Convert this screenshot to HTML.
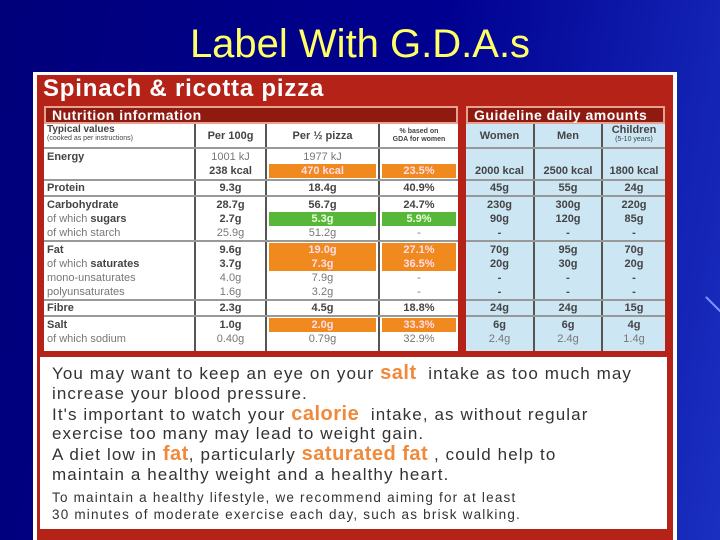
<!DOCTYPE html>
<html><head><meta charset="utf-8"><style>
*{margin:0;padding:0;box-sizing:border-box}
body{width:720px;height:540px;overflow:hidden;background:linear-gradient(100deg,#00007a 0%,#000090 55%,#1a2fc0 100%);font-family:"Liberation Sans",sans-serif;position:relative}
#title{position:absolute;left:0;width:720px;top:20px;text-align:center;color:#ffff66;font-size:40px;line-height:48px}
#img{position:absolute;left:33px;top:72px;width:644px;height:468px;background:#fff}
#red{position:absolute;left:37px;top:75px;width:636px;height:465px;background:#b52318}
#pt{position:absolute;left:43px;top:75px;color:#fff;font-weight:bold;font-size:24px;letter-spacing:0.8px}
.hd{position:absolute;top:106px;height:18px;background:#8e1a10;border:2px solid #e8a090;color:#fff;font-weight:bold;font-size:14px;line-height:14px;padding-left:6px;letter-spacing:0.5px}
.tbl{position:absolute;top:124px;display:flex;flex-direction:column;font-size:11px;font-weight:bold;color:#444}
.row{display:flex;border-bottom:2px solid #999}
.c{border-right:2px solid #555;display:flex;flex-direction:column;justify-content:flex-start;padding:1px 3px}
.c div{height:14px;line-height:14px;white-space:nowrap}
.n{text-align:center}
.l div{text-align:left}
.lt{font-weight:normal;color:#777}
.o{background:#f0891e;color:#fde;margin:0 -1px}
.g{background:#58b738;color:#e8ffe0;margin:0 -1px}
#left{left:44px;width:414px;background:#fff}
#right{left:466px;width:199px;background:#cce6f4}
#text{position:absolute;left:40px;top:357px;width:627px;height:172px;background:#fff;padding:7px 12px;color:#333;font-size:17px;line-height:19.5px;letter-spacing:1.1px;white-space:nowrap;overflow:hidden}
#text p{margin-bottom:1.5px}
.hl{color:#f0893a;font-weight:bold;font-size:20px;letter-spacing:0.5px}
.sm{font-size:13.5px;line-height:17px;margin-top:5px;letter-spacing:1.2px}
#deco{position:absolute;left:700px;top:310px;width:40px;height:2px;background:#8090ff;transform:rotate(45deg)}
</style></head><body>
<div id="title">Label With G.D.A.s</div>
<div id="deco"></div>
<div id="img"></div>
<div id="red"></div>
<div id="pt">Spinach &amp; ricotta pizza</div>
<div class="hd" style="left:44px;width:414px">Nutrition information</div>
<div class="hd" style="left:466px;width:199px">Guideline daily amounts</div>

<div class="tbl" id="left">
 <div class="row" style="height:25px">
  <div class="c l" style="width:152px;font-size:10px;line-height:9px"><span>Typical values</span><span style="font-size:7px;font-weight:normal">(cooked as per instructions)</span></div>
  <div class="c n" style="width:71px;justify-content:center"><div>Per 100g</div></div>
  <div class="c n" style="width:113px;justify-content:center"><div>Per ½ pizza</div></div>
  <div class="c n" style="width:78px;border-right:0;font-size:7px;line-height:8px;justify-content:center"><span>% based on</span><span>GDA for women</span></div>
 </div>
 <div class="row" style="height:32px">
  <div class="c l" style="width:152px"><div>Energy</div></div>
  <div class="c n" style="width:71px"><div class="lt">1001 kJ</div><div>238 kcal</div></div>
  <div class="c n" style="width:113px"><div class="lt">1977 kJ</div><div class="o">470 kcal</div></div>
  <div class="c n" style="width:78px;border-right:0"><div></div><div class="o">23.5%</div></div>
 </div>
 <div class="row" style="height:16px">
  <div class="c l" style="width:152px;padding-top:0"><div>Protein</div></div>
  <div class="c n" style="width:71px;padding-top:0"><div>9.3g</div></div>
  <div class="c n" style="width:113px;padding-top:0"><div>18.4g</div></div>
  <div class="c n" style="width:78px;border-right:0;padding-top:0"><div>40.9%</div></div>
 </div>
 <div class="row" style="height:45px">
  <div class="c l" style="width:152px"><div>Carbohydrate</div><div class="lt">of which <b style="color:#444">sugars</b></div><div class="lt">of which starch</div></div>
  <div class="c n" style="width:71px"><div>28.7g</div><div>2.7g</div><div class="lt">25.9g</div></div>
  <div class="c n" style="width:113px"><div>56.7g</div><div class="g">5.3g</div><div class="lt">51.2g</div></div>
  <div class="c n" style="width:78px;border-right:0"><div>24.7%</div><div class="g">5.9%</div><div class="lt">-</div></div>
 </div>
 <div class="row" style="height:59px">
  <div class="c l" style="width:152px"><div>Fat</div><div class="lt">of which <b style="color:#444">saturates</b></div><div class="lt">mono-unsaturates</div><div class="lt">polyunsaturates</div></div>
  <div class="c n" style="width:71px"><div>9.6g</div><div>3.7g</div><div class="lt">4.0g</div><div class="lt">1.6g</div></div>
  <div class="c n" style="width:113px"><div class="o">19.0g</div><div class="o">7.3g</div><div class="lt">7.9g</div><div class="lt">3.2g</div></div>
  <div class="c n" style="width:78px;border-right:0"><div class="o">27.1%</div><div class="o">36.5%</div><div class="lt">-</div><div class="lt">-</div></div>
 </div>
 <div class="row" style="height:16px">
  <div class="c l" style="width:152px;padding-top:0"><div>Fibre</div></div>
  <div class="c n" style="width:71px;padding-top:0"><div>2.3g</div></div>
  <div class="c n" style="width:113px;padding-top:0"><div>4.5g</div></div>
  <div class="c n" style="width:78px;border-right:0;padding-top:0"><div>18.8%</div></div>
 </div>
 <div class="row" style="height:34px;border-bottom:0">
  <div class="c l" style="width:152px"><div>Salt</div><div class="lt">of which sodium</div></div>
  <div class="c n" style="width:71px"><div>1.0g</div><div class="lt">0.40g</div></div>
  <div class="c n" style="width:113px"><div class="o">2.0g</div><div class="lt">0.79g</div></div>
  <div class="c n" style="width:78px;border-right:0"><div class="o">33.3%</div><div class="lt">32.9%</div></div>
 </div>
</div>

<div class="tbl" id="right">
 <div class="row" style="height:25px">
  <div class="c n" style="width:69px;justify-content:center"><div>Women</div></div>
  <div class="c n" style="width:68px;justify-content:center"><div>Men</div></div>
  <div class="c n" style="width:62px;border-right:0;line-height:10px"><span>Children</span><span style="font-size:7px;font-weight:normal">(5-10 years)</span></div>
 </div>
 <div class="row" style="height:32px">
  <div class="c n" style="width:69px;padding:1px 0"><div></div><div>2000 kcal</div></div>
  <div class="c n" style="width:68px;padding:1px 0"><div></div><div>2500 kcal</div></div>
  <div class="c n" style="width:62px;border-right:0;padding:1px 0"><div></div><div>1800 kcal</div></div>
 </div>
 <div class="row" style="height:16px">
  <div class="c n" style="width:69px;padding-top:0"><div>45g</div></div>
  <div class="c n" style="width:68px;padding-top:0"><div>55g</div></div>
  <div class="c n" style="width:62px;border-right:0;padding-top:0"><div>24g</div></div>
 </div>
 <div class="row" style="height:45px">
  <div class="c n" style="width:69px"><div>230g</div><div>90g</div><div>-</div></div>
  <div class="c n" style="width:68px"><div>300g</div><div>120g</div><div>-</div></div>
  <div class="c n" style="width:62px;border-right:0"><div>220g</div><div>85g</div><div>-</div></div>
 </div>
 <div class="row" style="height:59px">
  <div class="c n" style="width:69px"><div>70g</div><div>20g</div><div>-</div><div>-</div></div>
  <div class="c n" style="width:68px"><div>95g</div><div>30g</div><div>-</div><div>-</div></div>
  <div class="c n" style="width:62px;border-right:0"><div>70g</div><div>20g</div><div>-</div><div>-</div></div>
 </div>
 <div class="row" style="height:16px">
  <div class="c n" style="width:69px;padding-top:0"><div>24g</div></div>
  <div class="c n" style="width:68px;padding-top:0"><div>24g</div></div>
  <div class="c n" style="width:62px;border-right:0;padding-top:0"><div>15g</div></div>
 </div>
 <div class="row" style="height:34px;border-bottom:0">
  <div class="c n" style="width:69px"><div>6g</div><div class="lt">2.4g</div></div>
  <div class="c n" style="width:68px"><div>6g</div><div class="lt">2.4g</div></div>
  <div class="c n" style="width:62px;border-right:0"><div>4g</div><div class="lt">1.4g</div></div>
 </div>
</div>

<div id="text">
 <p>You may want to keep an eye on your <span class="hl">salt</span>&nbsp; intake as too much may<br>increase your blood pressure.</p>
 <p>It's important to watch your <span class="hl">calorie</span>&nbsp; intake, as without regular<br>exercise too many may lead to weight gain.</p>
 <p>A diet low in <span class="hl">fat</span>, particularly <span class="hl">saturated fat</span>&nbsp;, could help to<br>maintain a healthy weight and a healthy heart.</p>
 <p class="sm">To maintain a healthy lifestyle, we recommend aiming for at least<br>30 minutes of moderate exercise each day, such as brisk walking.</p>
</div>
</body></html>
